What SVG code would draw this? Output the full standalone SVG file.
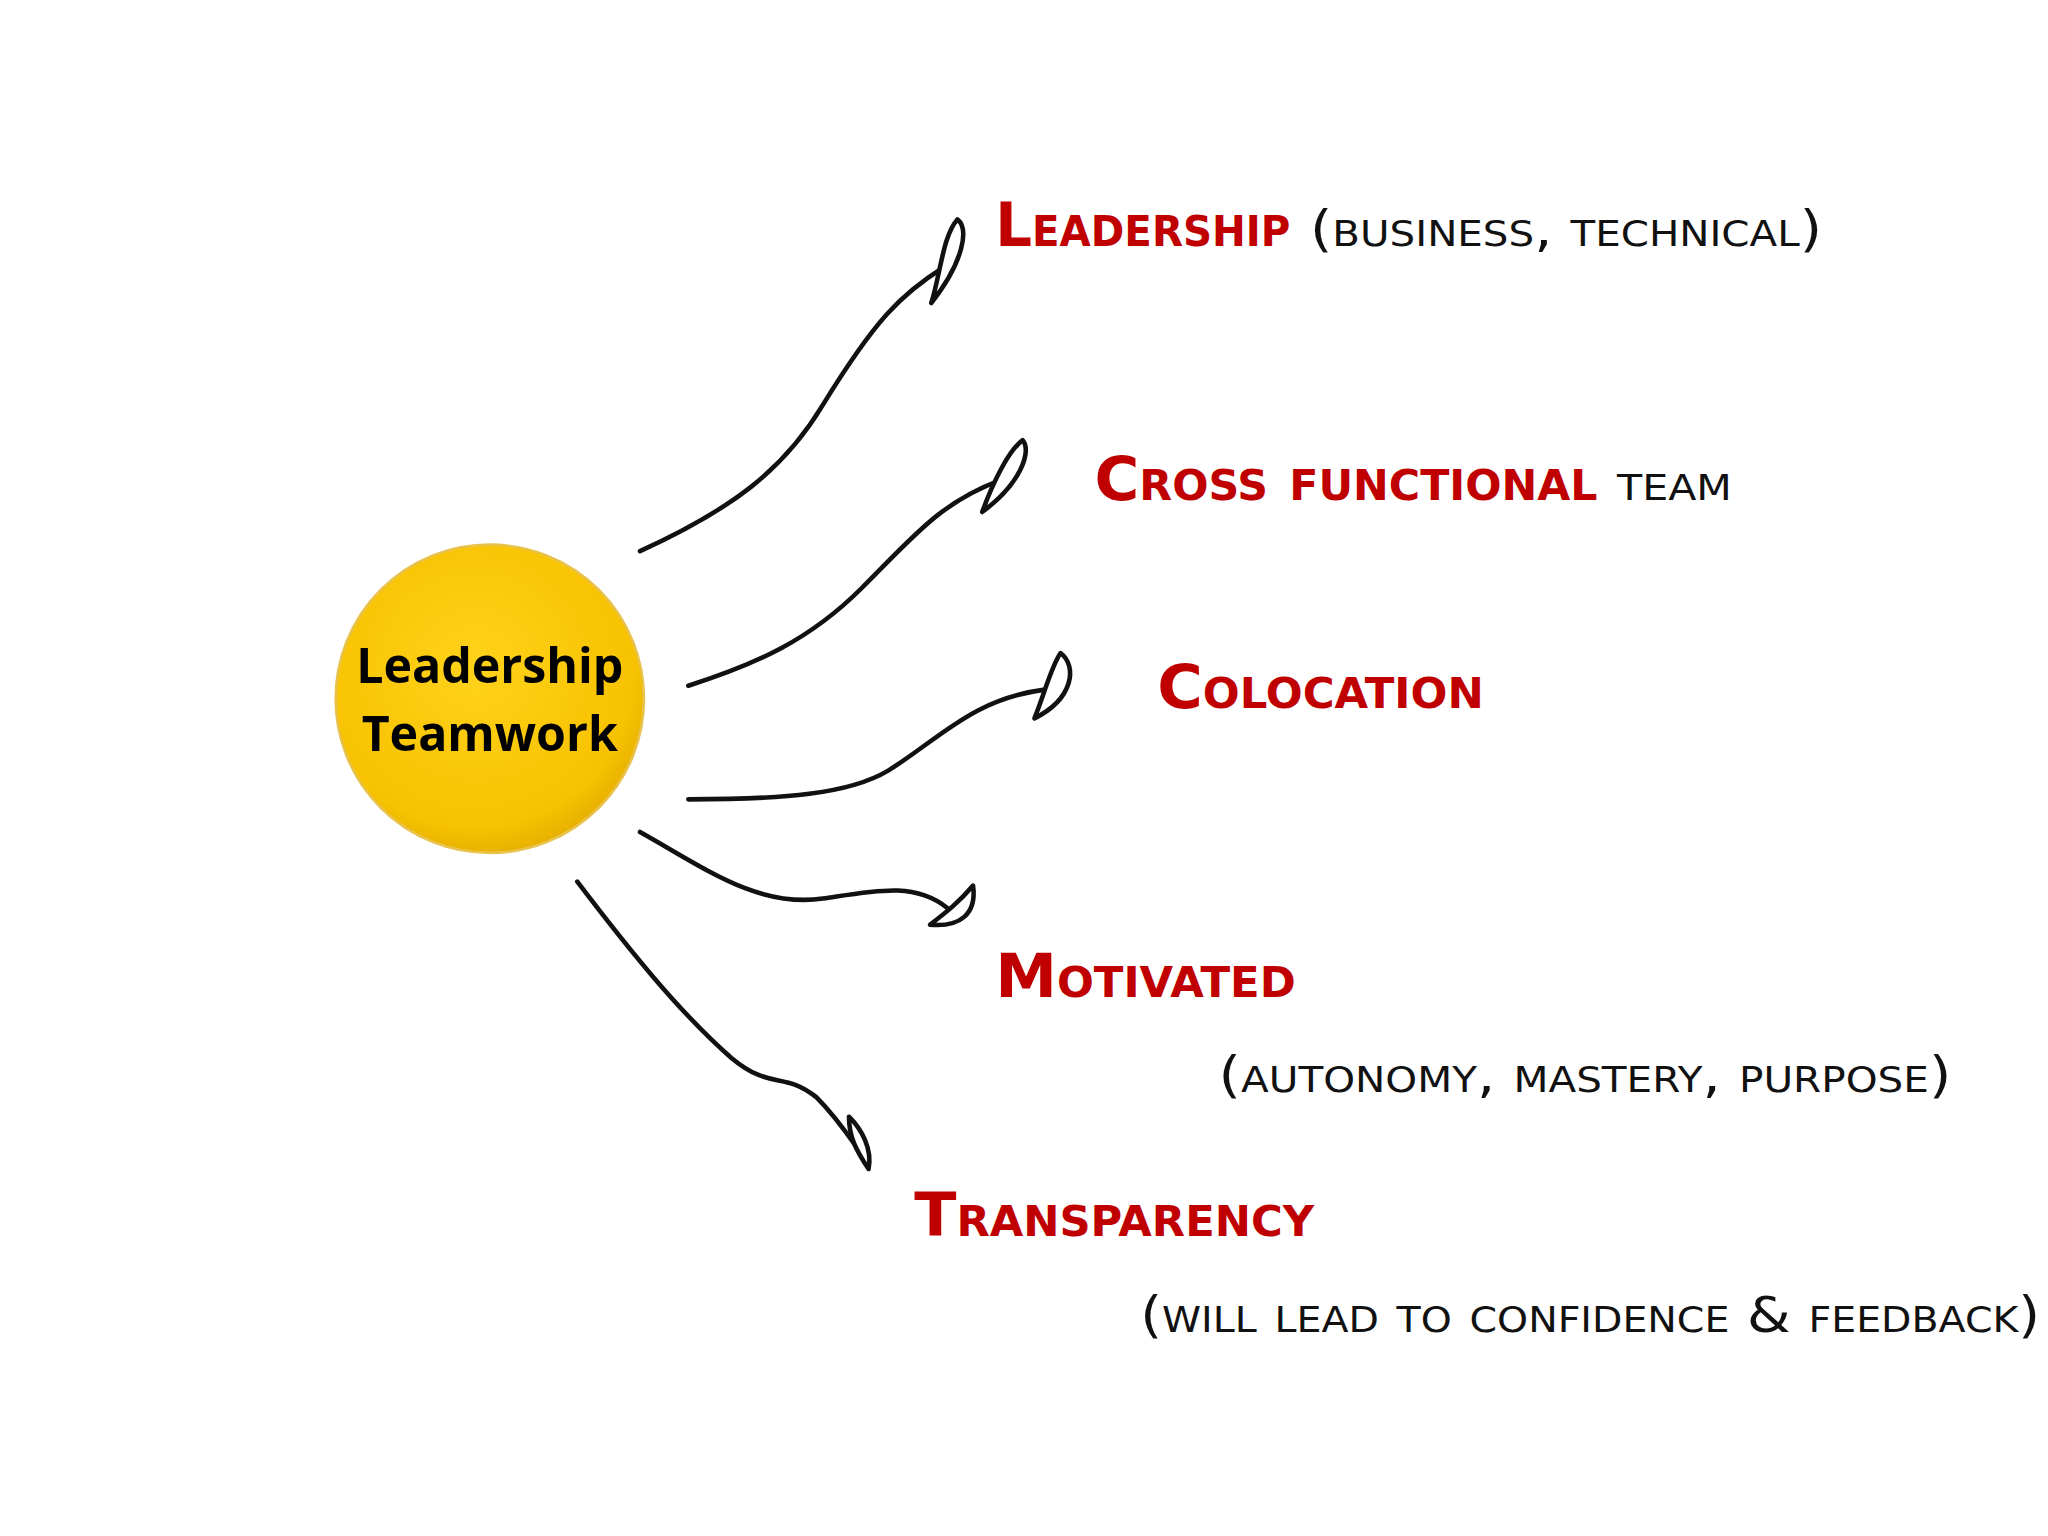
<svg xmlns="http://www.w3.org/2000/svg" width="2048" height="1536" viewBox="0 0 2048 1536">
<defs>
<radialGradient id="g" cx="0.45" cy="0.4" r="0.65"><stop offset="0" stop-color="#ffd21a"/><stop offset="0.8" stop-color="#f7c200"/><stop offset="1" stop-color="#e0a800"/></radialGradient>
</defs>
<style>
.c{fill:none;stroke:#111;stroke-width:3.5;stroke-linecap:round}
.h{fill:#fff;stroke:#111;stroke-width:3.5;stroke-linejoin:round}
.r{fill:#c00000;font-family:"DejaVu Sans",sans-serif;font-weight:bold;font-variant:small-caps;font-size:46px}
.k{fill:#111;font-family:"DejaVu Sans",sans-serif;font-variant:small-caps;font-size:38px}
.n{fill:#000;font-family:"Open Sans",sans-serif;font-weight:bold;font-size:37px;text-anchor:middle}
</style>
<rect width="2048" height="1536" fill="#fff"/>
<g transform="scale(1.30612)">
<g id="center">
<circle cx="375" cy="535" r="118" fill="url(#g)" stroke="#e8c24a" stroke-width="2"/>
<text class="n" x="375" y="523">Leadership</text>
<text class="n" x="375" y="575">Teamwork</text>
</g>
<g id="connectors">
<path class="c" d="M490,422 C560,390 600,360 630,310 C670,245 690,225 722,205"/>
<path class="h" d="M713,232 C720,210 722,180 733,168 C742,175 738,200 713,232Z"/>
<path class="c" d="M527,525 C580,508 620,490 660,450 C700,410 720,385 765,368"/>
<path class="h" d="M752,392 C760,370 772,345 783,337 C790,345 782,370 752,392Z"/>
<path class="c" d="M527,612 C600,612 650,608 680,590 C720,565 745,535 800,528"/>
<path class="h" d="M792,550 C800,530 805,510 812,500 C825,510 822,535 792,550Z"/>
<path class="c" d="M490,637 C540,665 580,695 630,688 C670,682 700,675 725,695"/>
<path class="h" d="M712,708 C725,698 735,690 745,678 C748,700 735,710 712,708Z"/>
<path class="c" d="M442,675 C480,725 520,775 560,810 C590,835 600,820 625,840 C640,855 650,870 657,880"/>
<path class="h" d="M665,895 C655,880 650,870 650,855 C660,865 668,880 665,895Z"/>
</g>
<g id="n1"><text class="r" x="762" y="188" textLength="226" lengthAdjust="spacingAndGlyphs">Leadership</text><text class="k" x="1003" y="188" textLength="392" lengthAdjust="spacingAndGlyphs">(business, technical)</text></g>
<g id="n2"><text class="r" x="838" y="383" textLength="385" lengthAdjust="spacingAndGlyphs">Cross functional</text><text class="k" x="1238" y="383" textLength="88" lengthAdjust="spacingAndGlyphs">team</text></g>
<g id="n3"><text class="r" x="886" y="542" textLength="250" lengthAdjust="spacingAndGlyphs">Colocation</text></g>
<g id="n4"><text class="r" x="762" y="763" textLength="230" lengthAdjust="spacingAndGlyphs">Motivated</text><text class="k" x="933" y="836" textLength="561" lengthAdjust="spacingAndGlyphs">(autonomy, mastery, purpose)</text></g>
<g id="n5"><text class="r" x="700" y="946" textLength="306" lengthAdjust="spacingAndGlyphs">Transparency</text><text class="k" x="873" y="1020" textLength="689" lengthAdjust="spacingAndGlyphs">(will lead to confidence &amp; feedback)</text></g>
</g>
</svg>
